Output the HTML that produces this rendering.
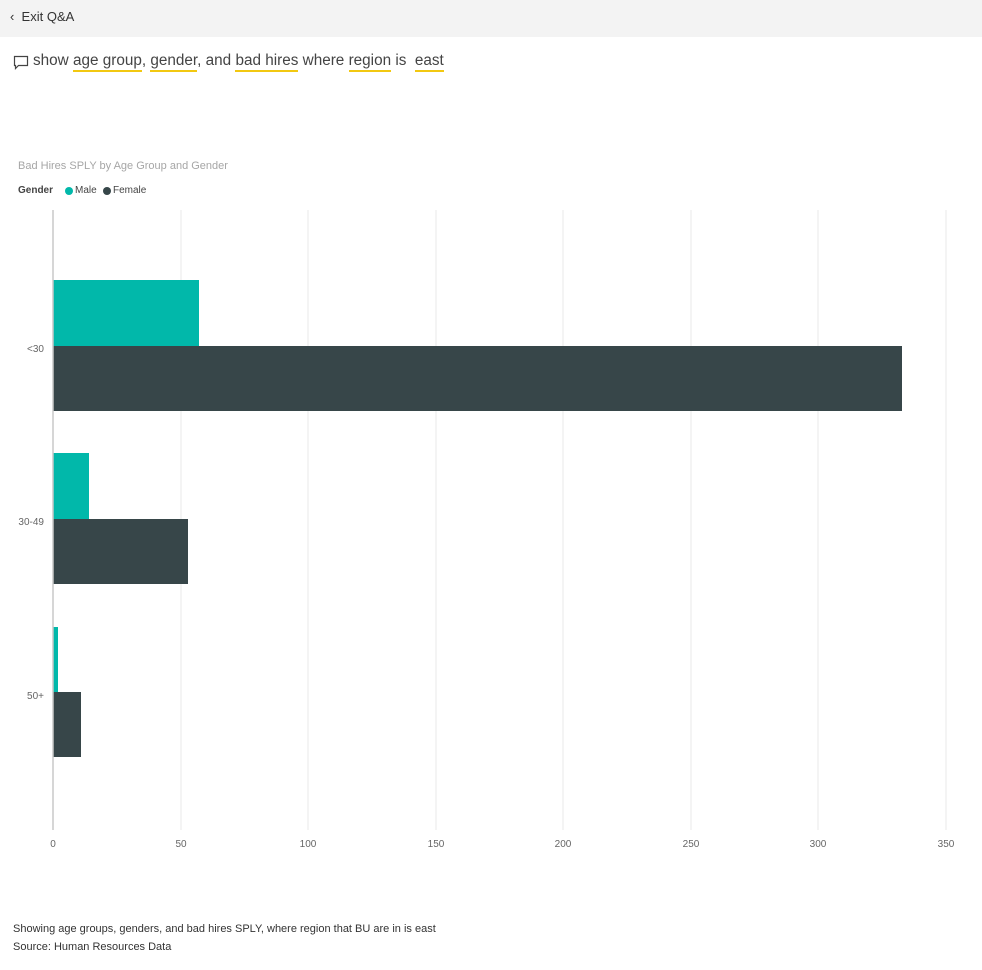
<!DOCTYPE html>
<html><head><style>
body{margin:0;width:982px;height:970px;background:#fff;font-family:"Segoe UI","Liberation Sans",sans-serif;position:relative;overflow:hidden}
.a{position:absolute;white-space:nowrap}
.u{border-bottom:2px solid #f2c811;padding-bottom:1px}
</style></head><body>
<div class="a" style="left:0;top:0;width:982px;height:37px;background:#f3f3f3"></div>
<div class="a" style="left:10px;top:9px;font-size:13px;color:#333">&#8249;&nbsp; Exit Q&amp;A</div>
<svg class="a" style="left:13px;top:55px" width="17" height="15"><path d="M1.5 1.5h13v9h-9l-3 3v-3h-1z" fill="none" stroke="#444" stroke-width="1.2"/></svg>
<div class="a" style="left:33px;top:52px;font-size:15.3px;color:#444">show <span class="u">age group</span>, <span class="u">gender</span>, and <span class="u">bad hires</span> where <span class="u">region</span> is &nbsp;<span class="u">east</span></div>
<div class="a" style="left:18px;top:160px;font-size:11px;color:#a6a6a6">Bad Hires SPLY by Age Group and Gender</div>
<div class="a" style="left:18px;top:185px;font-size:10px;color:#444"><b style="font-weight:600">Gender</b></div>
<div class="a" style="left:65px;top:187px;width:8px;height:8px;border-radius:50%;background:#01b8aa"></div>
<div class="a" style="left:75px;top:185px;font-size:10px;color:#444">Male</div>
<div class="a" style="left:103px;top:187px;width:8px;height:8px;border-radius:50%;background:#374649"></div>
<div class="a" style="left:113px;top:185px;font-size:10px;color:#444">Female</div>
<svg class="a" style="left:0;top:0" width="982" height="970">
<g stroke="#eaeaea" stroke-width="1">
<line x1="181" y1="210" x2="181" y2="830"/><line x1="308" y1="210" x2="308" y2="830"/><line x1="436" y1="210" x2="436" y2="830"/><line x1="563" y1="210" x2="563" y2="830"/><line x1="691" y1="210" x2="691" y2="830"/><line x1="818" y1="210" x2="818" y2="830"/><line x1="946" y1="210" x2="946" y2="830"/>
</g>
<rect x="53" y="280" width="146" height="66" fill="#01b8aa"/>
<rect x="53" y="346" width="849" height="65" fill="#374649"/>
<rect x="53" y="453" width="36" height="66" fill="#01b8aa"/>
<rect x="53" y="519" width="135" height="65" fill="#374649"/>
<rect x="53" y="627" width="5" height="65" fill="#01b8aa"/>
<rect x="53" y="692" width="28" height="65" fill="#374649"/>
<line x1="53" y1="210" x2="53" y2="830" stroke="#c8c8c8" stroke-width="1.5"/>
<g font-size="10" fill="#666" font-family="Segoe UI,Liberation Sans,sans-serif" text-anchor="end">
<text x="44" y="352">&lt;30</text><text x="44" y="525">30-49</text><text x="44" y="699">50+</text>
</g>
<g font-size="10" fill="#666" font-family="Segoe UI,Liberation Sans,sans-serif" text-anchor="middle">
<text x="53" y="847">0</text><text x="181" y="847">50</text><text x="308" y="847">100</text><text x="436" y="847">150</text><text x="563" y="847">200</text><text x="691" y="847">250</text><text x="818" y="847">300</text><text x="946" y="847">350</text>
</g>
</svg>
<div class="a" style="left:13px;top:923px;font-size:11px;color:#333">Showing age groups, genders, and bad hires SPLY, where region that BU are in is east</div>
<div class="a" style="left:13px;top:941px;font-size:11px;color:#333">Source: Human Resources Data</div>
</body></html>
